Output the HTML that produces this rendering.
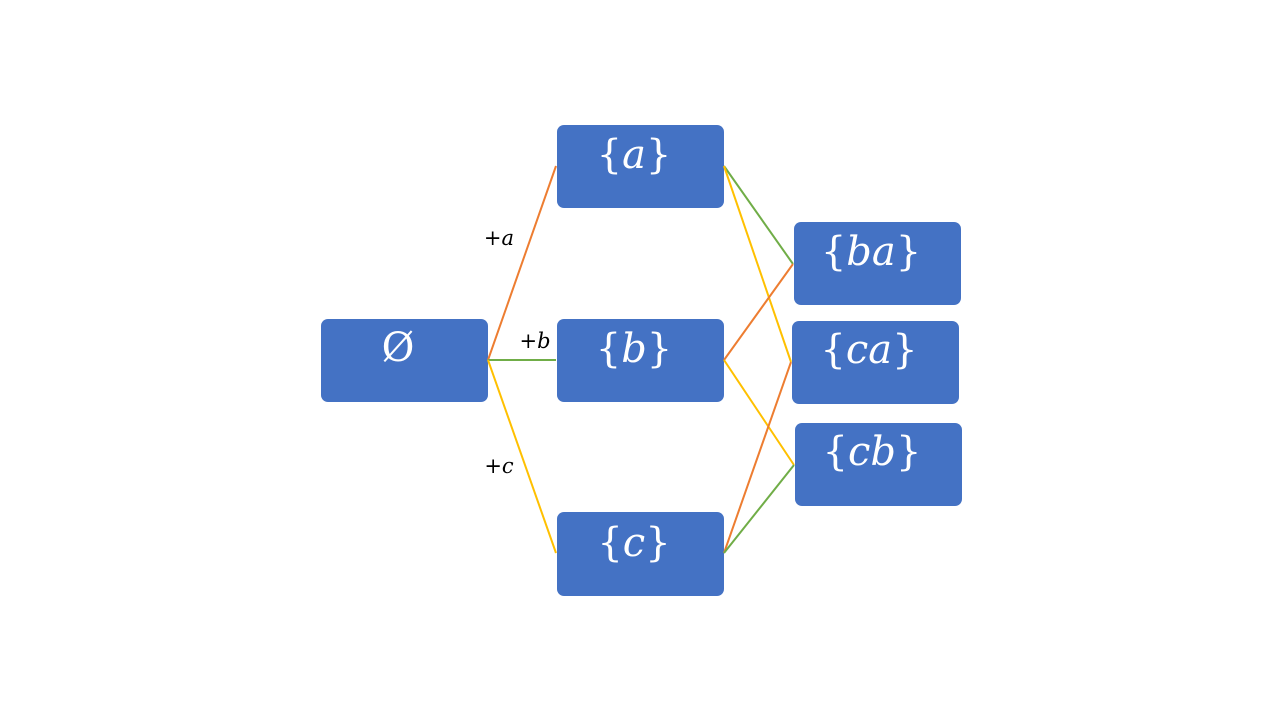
<!DOCTYPE html>
<html><head><meta charset="utf-8"><style>
html,body{margin:0;padding:0;background:#fff;width:1280px;height:720px;overflow:hidden}
</style></head><body>
<svg width="1280" height="720" xmlns="http://www.w3.org/2000/svg" style="position:absolute;left:0;top:0">
<g fill="#4472C4">
<rect x="321" y="319" width="167" height="83" rx="7"/>
<rect x="557" y="125" width="167" height="83" rx="7"/>
<rect x="557" y="319" width="167" height="83" rx="7"/>
<rect x="557" y="512" width="167" height="84" rx="7"/>
<rect x="794" y="222" width="167" height="83" rx="7"/>
<rect x="792" y="321" width="167" height="83" rx="7"/>
<rect x="795" y="423" width="167" height="83" rx="7"/>
</g>
<g stroke-width="2" fill="none">
<line x1="488" y1="360" x2="556" y2="166" stroke="#ED7D31"/>
<line x1="488" y1="360" x2="556" y2="360" stroke="#70AD47"/>
<line x1="488" y1="360" x2="556" y2="553" stroke="#FFC000"/>
<line x1="724" y1="166" x2="793" y2="264" stroke="#70AD47"/>
<line x1="724" y1="166" x2="791" y2="362" stroke="#FFC000"/>
<line x1="724" y1="360" x2="793" y2="264" stroke="#ED7D31"/>
<line x1="724" y1="360" x2="794" y2="465" stroke="#FFC000"/>
<line x1="724" y1="553" x2="791" y2="362" stroke="#ED7D31"/>
<line x1="724" y1="553" x2="794" y2="465" stroke="#70AD47"/>
</g>
<g font-family="DejaVu Serif, Liberation Serif, serif" fill="#fff" font-size="40" text-anchor="middle">
<text x="398" y="361">Ø</text>
<text x="634" y="168">{<tspan font-style="italic">a</tspan>}</text>
<text x="634" y="362">{<tspan font-style="italic">b</tspan>}</text>
<text x="634" y="556">{<tspan font-style="italic">c</tspan>}</text>
<text x="871" y="265">{<tspan font-style="italic">ba</tspan>}</text>
<text x="869" y="363">{<tspan font-style="italic">ca</tspan>}</text>
<text x="872" y="465">{<tspan font-style="italic">cb</tspan>}</text>
</g>
<g font-family="DejaVu Serif, Liberation Serif, serif" fill="#000" font-size="21" text-anchor="middle">
<text x="499" y="245">+<tspan font-style="italic">a</tspan></text>
<text x="535" y="348">+<tspan font-style="italic">b</tspan></text>
<text x="499" y="473">+<tspan font-style="italic">c</tspan></text>
</g>
</svg>
</body></html>
